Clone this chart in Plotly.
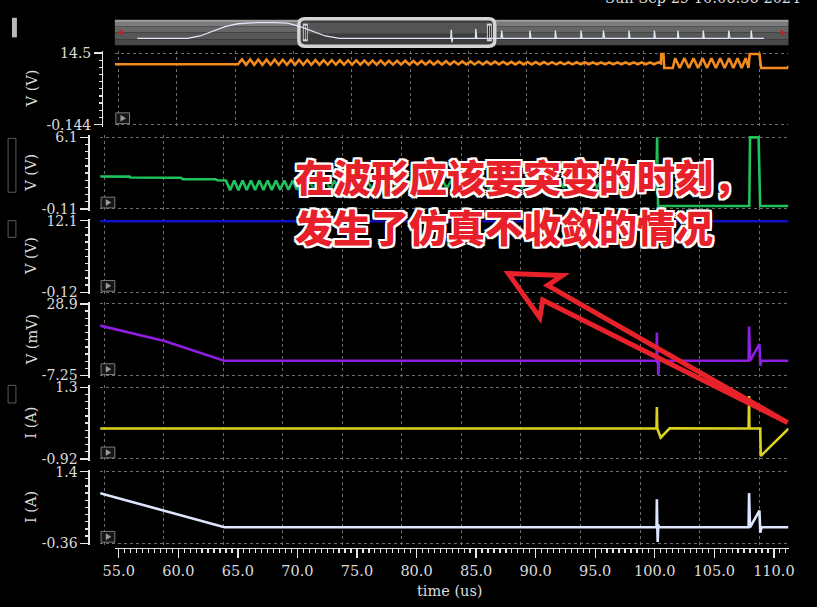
import plotly.graph_objects as go

W, H = 817, 607
FONT = "DejaVu Serif"

# ---------------- data ----------------
t_range = [53.44, 111.23]
tick_axis_start = 54.67
grid_t = [53.77, 58.77, 63.77, 68.77, 73.77, 78.77, 83.77, 88.77, 93.77, 98.77, 103.77, 108.77]
tick_t = [55, 60, 65, 70, 75, 80, 85, 90, 95, 100, 105, 110]
tick_text = ["55.0", "60.0", "65.0", "70.0", "75.0", "80.0", "85.0", "90.0", "95.0", "100.0", "105.0", "110.0"]

osc_t = [64.00, 64.35, 64.70, 65.05, 65.40, 65.75, 66.10, 66.45, 66.80, 67.15,
         67.50, 67.85, 68.20, 68.55, 68.90, 69.25, 69.60, 69.95, 70.30, 70.65,
         71.00, 71.35, 71.70, 72.05, 72.40, 72.75, 73.10, 73.45, 73.80, 74.15,
         74.50, 74.85, 75.20, 75.55, 75.90, 76.25, 76.60, 76.95, 77.30, 77.65,
         78.00, 78.35, 78.70, 79.05, 79.40, 79.75, 80.10, 80.45, 80.80, 81.15,
         81.50, 81.85, 82.20, 82.55, 82.90, 83.25, 83.60, 83.95, 84.30, 84.65,
         85.00, 85.35, 85.70, 86.05, 86.40, 86.75, 87.10, 87.45, 87.80, 88.15,
         88.50, 88.85, 89.20, 89.55, 89.90, 90.25, 90.60, 90.95, 91.30, 91.65,
         92.00, 92.35, 92.70, 93.05, 93.40, 93.75, 94.10, 94.45, 94.80, 95.15,
         95.50, 95.85, 96.20, 96.55, 96.90, 97.25, 97.60, 97.95, 98.30, 98.65,
         99.00, 99.35, 99.70, 100.05]

orange_osc = [12.2, 13.2, 12.1, 13.19, 12.1, 13.17, 12.1, 13.16, 12.1, 13.14,
              12.1, 13.13, 12.11, 13.11, 12.11, 13.10, 12.11, 13.08, 12.11, 13.07,
              12.12, 13.05, 12.12, 13.04, 12.12, 13.02, 12.12, 13.01, 12.13, 12.99,
              12.13, 12.98, 12.13, 12.96, 12.13, 12.95, 12.14, 12.93, 12.14, 12.92,
              12.14, 12.90, 12.14, 12.89, 12.15, 12.87, 12.15, 12.86, 12.15, 12.84,
              12.15, 12.83, 12.16, 12.81, 12.16, 12.80, 12.16, 12.78, 12.16, 12.77,
              12.17, 12.75, 12.17, 12.74, 12.17, 12.72, 12.17, 12.71, 12.18, 12.69,
              12.18, 12.68, 12.18, 12.66, 12.18, 12.65, 12.19, 12.63, 12.19, 12.62,
              12.19, 12.62, 12.19, 12.61, 12.2, 12.61, 12.2, 12.60, 12.2, 12.60,
              12.2, 12.60, 12.2, 12.60, 12.2, 12.60, 12.2, 12.60, 12.2, 12.60,
              12.2, 12.60, 12.2, 12.60]

green_osc = [2.36, 1.52, 2.36, 1.52, 2.36, 1.53, 2.36, 1.53, 2.36, 1.54,
             2.36, 1.54, 2.36, 1.55, 2.36, 1.55, 2.36, 1.56, 2.36, 1.56,
             2.36, 1.57, 2.36, 1.57, 2.36, 1.58, 2.36, 1.58, 2.36, 1.59,
             2.36, 1.59, 2.36, 1.60, 2.36, 1.60, 2.36, 1.61, 2.36, 1.61,
             2.36, 1.62, 2.36, 1.62, 2.36, 1.63, 2.36, 1.63, 2.36, 1.64,
             2.36, 1.64, 2.36, 1.65, 2.36, 1.65, 2.36, 1.66, 2.36, 1.66,
             2.36, 1.67, 2.36, 1.67, 2.36, 1.68, 2.36, 1.68, 2.36, 1.69,
             2.36, 1.69, 2.36, 1.70, 2.36, 1.70, 2.36, 1.71, 2.36, 1.71,
             2.36, 1.72, 2.36, 1.72, 2.36, 1.73, 2.36, 1.73, 2.36, 1.74,
             2.36, 1.74, 2.36, 1.75, 2.36, 1.75, 2.36, 1.76, 2.36, 1.76,
             2.36, 1.77, 2.36, 1.77]

orange_pre_t = [53.44]
orange_pre_v = [12.2]
orange_post_t = [100.28, 100.31, 100.5, 100.57, 101.3, 101.51, 101.9, 102.3, 102.69, 103.08,
                 103.47, 103.86, 104.24, 104.62, 105.0, 105.37, 105.75, 106.13, 106.5, 106.86,
                 107.21, 107.56, 107.8, 107.9, 108.74, 108.88, 111.12, 111.23]
orange_post_v = [12.4, 14.3, 14.3, 11.45, 11.45, 13.45, 11.45, 13.45, 11.45, 13.45,
                 11.45, 13.45, 11.45, 13.45, 11.45, 13.45, 11.45, 13.45, 11.45, 13.45,
                 11.45, 13.45, 11.45, 14.3, 14.3, 11.45, 11.45, 11.8]

green_pre_t = [53.44, 55.9, 56.0, 60.2, 60.4, 63.1, 63.3]
green_pre_v = [2.70, 2.69, 2.61, 2.60, 2.47, 2.46, 2.38]
green_post_t = [100.15, 100.2, 100.28, 107.94, 108.0, 108.72, 108.85, 111.23]
green_post_v = [2.36, 6.1, 0.14, 0.14, 6.1, 6.1, 0.14, 0.14]

blue_t = [53.44, 111.23]
blue_v = [12.0, 12.0]

purple_t = [53.44, 58.84, 63.85, 100.15, 100.18, 100.22, 100.26, 100.3, 100.36,
            107.88, 107.92, 108.0, 108.79, 108.86, 108.95, 111.23]
purple_v = [18.0, 10.2, 0.2, 0.2, 14.5, -1.0, 3.0, -7.0, 0.2,
            0.2, 17.5, 0.2, 8.6, -2.3, 0.2, 0.2]

yellow_t = [53.44, 100.15, 100.18, 100.21, 100.5, 101.25, 107.88, 107.92, 107.95, 108.86, 108.9, 111.23]
yellow_v = [0.02, 0.02, 0.69, 0.02, -0.26, 0.03, 0.02, 1.03, 0.02, 0.02, -0.83, 0.02]

white_t = [53.44, 63.88, 100.15, 100.18, 100.21, 100.25, 100.3, 100.36,
           107.88, 107.92, 108.0, 108.79, 108.86, 108.97, 111.23]
white_v = [0.87, 0.03, 0.03, 0.72, 0.1, -0.33, 0.1, 0.03,
           0.03, 0.87, 0.03, 0.44, -0.10, 0.03, 0.03]

panel_lo = [-0.144, -0.11, -0.12, -7.25, -0.92, -0.36]
panel_hi = [14.5, 6.1, 12.1, 28.9, 1.3, 1.4]
panel_lo_text = ["-0.144", "-0.11", "-0.12", "-7.25", "-0.92", "-0.36"]
panel_hi_text = ["14.5", "6.1", "12.1", "28.9", "1.3", "1.4"]
panel_title = ["V (V)", "V (V)", "V (V)", "V (mV)", "I (A)", "I (A)"]

# overview strip (whole simulation, us)
ov_range = [-7.19, 207.8]
ov_t = [0, 16, 20, 24, 28, 32, 38, 44, 48, 52, 56, 60, 64.5,
        100.0, 100.2, 100.4, 100.6, 107.9, 108.0, 108.3,
        116.1, 116.25, 116.6, 125.2, 125.3, 125.6, 133.3, 133.4, 133.7,
        141.5, 141.6, 141.9, 148.6, 148.75, 149.1, 156.8, 156.9, 157.2,
        164.9, 165.0, 165.3, 172.4, 172.5, 172.8, 180.5, 180.6, 180.9,
        188.6, 188.75, 189.1, 195.8, 195.9, 196.2, 200.0]
ov_v = [0, 0, 0.15, 0.45, 0.75, 0.93, 1.0, 1.0, 0.97, 0.75, 0.45, 0.15, 0,
        0, 0.55, -0.25, 0, 0, 0.6, 0,
        0, 0.5, 0, 0, 0.5, 0, 0, 0.5, 0,
        0, 0.5, 0, 0, 0.5, 0, 0, 0.5, 0,
        0, 0.5, 0, 0, 0.5, 0, 0, 0.5, 0,
        0, 0.5, 0, 0, 0.5, 0, 0]

series_t = [orange_pre_t + osc_t + orange_post_t,
            green_pre_t + osc_t + green_post_t,
            blue_t, purple_t, yellow_t, white_t]
series_v = [orange_pre_v + orange_osc + orange_post_v,
            green_pre_v + green_osc + green_post_v,
            blue_v, purple_v, yellow_v, white_v]

# ---------------- styling / layout ----------------
colors = ["#f28a1e", "#1fc35c", "#1010c8", "#8e1ee0", "#dcd21e", "#dde5ff"]
panel_top = [48, 134, 219, 304, 389, 475]
PANEL_H = 73
panel_left = [105, 90, 90, 90, 90, 90]
axis_x = [92, 78, 78, 78, 78, 78]
RIGHT = 793
GRID = "#6e6e6e"
AX = "#e6e6e6"
TXT = "#dcdcdc"


def px(x):
    return x / W


def py(y):
    return 1 - y / H


fig = go.Figure()
layout = {}
annotations = []
shapes = []

for i in range(6):
    n = i + 1
    xname = "x" if n == 1 else f"x{n}"
    yname = "y" if n == 1 else f"y{n}"
    xkey = "xaxis" if n == 1 else f"xaxis{n}"
    ykey = "yaxis" if n == 1 else f"yaxis{n}"
    fig.add_trace(go.Scatter(x=series_t[i], y=series_v[i], mode="lines",
                             line=dict(color=colors[i], width=2.6),
                             xaxis=xname, yaxis=yname, showlegend=False,
                             hoverinfo="skip"))
    top = panel_top[i]
    bot = top + PANEL_H
    lo, hi = panel_lo[i], panel_hi[i]
    pad = (hi - lo) / PANEL_H * 2
    layout[xkey] = dict(domain=[px(panel_left[i]), px(RIGHT)], range=t_range,
                        anchor=yname, tickmode="array", tickvals=grid_t,
                        showticklabels=False, ticks="", showgrid=True,
                        gridcolor=GRID, griddash="dot", gridwidth=1,
                        zeroline=False, showline=False, fixedrange=True)
    layout[ykey] = dict(domain=[py(bot + 2), py(top - 2)], range=[lo - pad, hi + pad],
                        anchor="free", position=px(axis_x[i]),
                        tickmode="array", tickvals=[lo, hi],
                        ticktext=[panel_lo_text[i], panel_hi_text[i]],
                        ticks="outside", ticklen=8, tickwidth=1.3, tickcolor=AX,
                        minor=dict(tick0=lo, dtick=(hi - lo) / 10, ticks="outside",
                                   ticklen=3, tickwidth=1.3, tickcolor=AX, showgrid=False),
                        showline=True, linecolor=AX, linewidth=1.3,
                        showgrid=True, gridcolor=GRID, griddash="dot", gridwidth=1,
                        zeroline=False, fixedrange=True,
                        tickfont=dict(family=FONT, size=14, color=TXT))
    annotations.append(dict(text=panel_title[i], x=px(20), y=py(top + PANEL_H / 2),
                            xref="paper", yref="paper", showarrow=False, textangle=-90,
                            font=dict(family=FONT, size=14.5, color=TXT),
                            xanchor="center", yanchor="middle"))
    # little "play" box at bottom-left of each panel
    bx = panel_left[i] + 1
    shapes.append(dict(type="rect", xref="paper", yref="paper",
                       x0=px(bx), x1=px(bx + 14), y0=py(bot - 1), y1=py(bot - 12),
                       line=dict(color="#7c7c7c", width=1), fillcolor="#151515"))
    shapes.append(dict(type="path", xref="paper", yref="paper",
                       path=f"M {px(bx + 5)} {py(bot - 9.5)} L {px(bx + 10)} {py(bot - 6.5)} L {px(bx + 5)} {py(bot - 3.5)} Z",
                       line=dict(color="#9a9a9a", width=0.5), fillcolor="#9a9a9a"))

# bottom time axis
fig.add_trace(go.Scatter(x=[None], y=[None], xaxis="x7", yaxis="y7",
                         showlegend=False, hoverinfo="skip"))
layout["xaxis7"] = dict(domain=[px(105), px(794)], range=[tick_axis_start, t_range[1] + 0.08],
                        anchor="y7", side="bottom", tickmode="array", tickvals=tick_t,
                        ticktext=tick_text, ticks="outside", ticklen=9, tickwidth=1.3,
                        tickcolor=AX,
                        minor=dict(tick0=55, dtick=0.5, ticks="outside", ticklen=4,
                                   tickwidth=1.3, tickcolor=AX, showgrid=False),
                        showline=True, linecolor=AX, linewidth=1.3, showgrid=False,
                        zeroline=False, fixedrange=True,
                        tickfont=dict(family=FONT, size=14.5, color=TXT))
layout["yaxis7"] = dict(domain=[py(553), py(550)], range=[0, 1], visible=False,
                        anchor="x7", fixedrange=True)
annotations.append(dict(text="time (us)", x=px(447), y=py(597), xref="paper", yref="paper",
                        showarrow=False, font=dict(family=FONT, size=14.5, color=TXT),
                        xanchor="center", yanchor="middle"))

# overview strip
BAR_X0, BAR_X1, BAR_Y0, BAR_Y1 = 105, 793, 14, 40
bands = [(14, 17, "#9a9a9a"), (17, 21, "#7c7c7c"), (21, 27, "#666666"),
         (27, 34, "#565656"), (34, 40, "#484848")]
for y0, y1, c in bands:
    shapes.append(dict(type="rect", xref="paper", yref="paper", layer="below",
                       x0=px(BAR_X0), x1=px(BAR_X1), y0=py(y1), y1=py(y0),
                       line=dict(width=0), fillcolor=c))


def rrect(x0, y0, x1, y1, r):
    return (f"M {px(x0 + r)} {py(y0)} L {px(x1 - r)} {py(y0)} "
            f"Q {px(x1)} {py(y0)} {px(x1)} {py(y0 + r)} L {px(x1)} {py(y1 - r)} "
            f"Q {px(x1)} {py(y1)} {px(x1 - r)} {py(y1)} L {px(x0 + r)} {py(y1)} "
            f"Q {px(x0)} {py(y1)} {px(x0)} {py(y1 - r)} L {px(x0)} {py(y0 + r)} "
            f"Q {px(x0)} {py(y0)} {px(x0 + r)} {py(y0)} Z")


shapes.append(dict(type="path", xref="paper", yref="paper", layer="below",
                   path=rrect(293, 13, 493, 41, 6),
                   line=dict(color="#d4d4d4", width=3.5), fillcolor="#3c3c3c"))
shapes.append(dict(type="rect", xref="paper", yref="paper", layer="below",
                   x0=px(297), x1=px(489), y0=py(28), y1=py(17),
                   line=dict(width=0), fillcolor="#545454"))
for hx in (297, 485):
    shapes.append(dict(type="rect", xref="paper", yref="paper", layer="below",
                       x0=px(hx), x1=px(hx + 5), y0=py(36), y1=py(18),
                       line=dict(width=0), fillcolor="#d8d8d8"))
    for lx in (hx + 1.5, hx + 3.5):
        shapes.append(dict(type="line", xref="paper", yref="paper", layer="below",
                           x0=px(lx), x1=px(lx), y0=py(34), y1=py(20),
                           line=dict(color="#111111", width=1)))
shapes.append(dict(type="path", xref="paper", yref="paper",
                   path=f"M {px(108)} {py(27)} L {px(113)} {py(24)} L {px(113)} {py(30)} Z",
                   line=dict(width=0), fillcolor="#c81e1e"))
shapes.append(dict(type="path", xref="paper", yref="paper",
                   path=f"M {px(790)} {py(27)} L {px(785)} {py(24)} L {px(785)} {py(30)} Z",
                   line=dict(width=0), fillcolor="#c81e1e"))

fig.add_trace(go.Scatter(x=ov_t, y=ov_v, mode="lines", line=dict(color="#dfe6f5", width=1.3),
                         xaxis="x8", yaxis="y8", showlegend=False, hoverinfo="skip"))
layout["xaxis8"] = dict(domain=[px(BAR_X0), px(BAR_X1)], range=ov_range, anchor="y8",
                        visible=False, fixedrange=True)
layout["yaxis8"] = dict(domain=[py(BAR_Y1), py(BAR_Y0)], range=[-0.4375, 1.1875],
                        anchor="x8", visible=False, fixedrange=True)

# left-edge window fragments
for y0, y1 in [(12, 32)]:
    shapes.append(dict(type="rect", xref="paper", yref="paper", x0=0, x1=px(5),
                       y0=py(y1), y1=py(y0), line=dict(width=0), fillcolor="#b8b8b8"))
for y0, y1 in [(135, 190), (219, 236), (387, 405)]:
    shapes.append(dict(type="rect", xref="paper", yref="paper", x0=px(-4), x1=px(4),
                       y0=py(y1), y1=py(y0), line=dict(color="#5a5a5a", width=1),
                       fillcolor="rgba(0,0,0,0)"))

# date stamp (cut off at top)
annotations.append(dict(text="Sun Sep 29 10:06:56 2024 ·", x=px(604), y=py(-8),
                        xref="paper", yref="paper", showarrow=False,
                        font=dict(family=FONT, size=14.5, color=TXT),
                        xanchor="left", yanchor="middle"))

# red callout text
cjk_shadow = ("2px 0 0 #fff, -2px 0 0 #fff, 0 2px 0 #fff, 0 -2px 0 #fff, "
              "2px 2px 0 #fff, -2px -2px 0 #fff, 2px -2px 0 #fff, -2px 2px 0 #fff, "
              "0 0 6px #000")
for txt, yc in [("在波形应该要突变的时刻，", 173), ("发生了仿真不收敛的情况", 224)]:
    annotations.append(dict(text=txt, x=px(287), y=py(yc), xref="paper", yref="paper",
                            showarrow=False, xanchor="left", yanchor="middle",
                            font=dict(family="Noto Sans CJK SC", size=38, color="#e8202a",
                                      weight=900, shadow=cjk_shadow)))

# hollow red arrow
arrow_pts = [(507, 273), (562, 275), (547, 285), (792, 425), (542, 300), (539, 318)]
arrow_path = "M " + " L ".join(f"{px(x)} {py(y)}" for x, y in arrow_pts) + " Z"
shapes.append(dict(type="path", xref="paper", yref="paper", path=arrow_path,
                   line=dict(color="#e8222a", width=5), fillcolor="rgba(0,0,0,0)"))

fig.update_layout(**layout)
fig.update_layout(width=W, height=H, autosize=False,
                  margin=dict(l=0, r=0, t=0, b=0, pad=0),
                  paper_bgcolor="#000000", plot_bgcolor="rgba(0,0,0,0)",
                  showlegend=False, hovermode=False,
                  annotations=annotations, shapes=shapes)

fig.write_html("out.html",
               config={"displayModeBar": False, "staticPlot": True},
               post_script="document.body.style.margin='0';document.body.style.padding='0';"
                           "document.body.style.overflow='hidden';"
                           "document.documentElement.style.overflow='hidden';"
                           "document.body.style.background='#000';")
